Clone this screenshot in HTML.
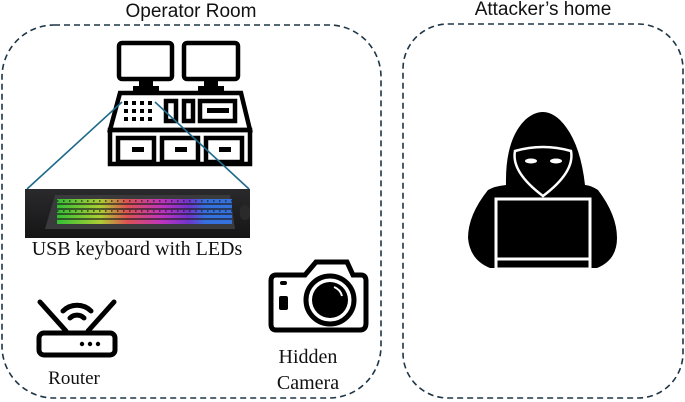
<!DOCTYPE html>
<html><head><style>
html,body{margin:0;padding:0;background:#fff;width:685px;height:402px;overflow:hidden}
</style></head><body>
<svg width="685" height="402" viewBox="0 0 685 402" xmlns="http://www.w3.org/2000/svg">
<defs>
<linearGradient id="kb" x1="0" x2="1">
<stop offset="0" stop-color="#3c3"/><stop offset="0.25" stop-color="#bd3"/><stop offset="0.4" stop-color="#e55"/><stop offset="0.6" stop-color="#c3c"/><stop offset="0.75" stop-color="#73d"/><stop offset="0.85" stop-color="#37e"/><stop offset="1" stop-color="#37e"/>
</linearGradient>
<linearGradient id="bg" x1="0" y1="0" x2="0" y2="1">
<stop offset="0" stop-color="#2a2a2c"/><stop offset="1" stop-color="#151516"/>
</linearGradient>
</defs>
<g font-family="Liberation Sans, sans-serif" font-size="19" fill="#111" text-anchor="middle">
<text x="191" y="17">Operator Room</text>
<text x="543" y="15">Attacker’s home</text>
</g>
<rect x="2" y="25" width="379" height="373" rx="52" fill="none" stroke="#1e3546" stroke-width="1.6" stroke-dasharray="6,4"/>
<rect x="403" y="24" width="280" height="374" rx="45" fill="none" stroke="#1e3546" stroke-width="1.6" stroke-dasharray="6,4"/>
<!-- console -->
<g fill="none" stroke="#000" stroke-width="4.5">
<rect x="119" y="43" width="53" height="36" rx="3"/>
<rect x="184" y="43" width="54" height="36" rx="3"/>
<path d="M120 93 H241 L250 130 H110 Z"/>
<rect x="110" y="130" width="140" height="34"/>
<rect x="118" y="138" width="36" height="24"/>
<rect x="162" y="138" width="36" height="24"/>
<rect x="206" y="138" width="36" height="24"/>
<rect x="166" y="101" width="10" height="20"/>
<rect x="184" y="101" width="9" height="20"/>
<rect x="200" y="101" width="35" height="20"/>
</g>
<g fill="#000">
<rect x="139" y="78" width="14" height="8"/><rect x="204" y="78" width="14" height="8"/>
<rect x="133" y="86" width="26" height="6"/><rect x="198" y="86" width="26" height="6"/>
<rect x="132" y="147" width="12" height="5"/><rect x="175" y="147" width="12" height="5"/><rect x="219" y="147" width="12" height="5"/>
<rect x="207" y="108" width="22" height="5"/>
</g>
<g fill="#000">
<rect x="124" y="101" width="4" height="4"/><rect x="132" y="101" width="4" height="4"/><rect x="140" y="101" width="4" height="4"/><rect x="148" y="101" width="4" height="4"/>
<rect x="124" y="109" width="4" height="4"/><rect x="132" y="109" width="4" height="4"/><rect x="140" y="109" width="4" height="4"/><rect x="148" y="109" width="4" height="4"/>
<rect x="124" y="117" width="4" height="4"/><rect x="132" y="117" width="4" height="4"/><rect x="140" y="117" width="4" height="4"/><rect x="148" y="117" width="4" height="4"/>
</g>
<line x1="27" y1="189" x2="122" y2="102" stroke="#1f6a8a" stroke-width="1.6"/>
<line x1="249" y1="189" x2="155" y2="102" stroke="#1f6a8a" stroke-width="1.6"/>
<!-- keyboard -->
<rect x="25" y="189" width="225" height="49" fill="url(#bg)"/>
<path d="M55 195 H230 L235 229 H45 Z" fill="#3a3a3c"/>
<rect x="57" y="199" width="175" height="25" fill="url(#kb)" opacity="0.9"/>
<g stroke="#1e1e1e" stroke-width="1.2">
<line x1="57" y1="204" x2="232" y2="204"/><line x1="57" y1="209" x2="232" y2="209"/><line x1="57" y1="214" x2="232" y2="214"/><line x1="57" y1="219" x2="232" y2="219"/>
</g>
<g stroke="#1e1e1e" stroke-width="1.2" stroke-dasharray="1.5,4.5"><line x1="57" y1="211" x2="232" y2="211"/><line x1="57" y1="201" x2="232" y2="201"/></g>
<rect x="240" y="205" width="10" height="15" rx="5" fill="#2a2a2a"/>
<text x="137" y="255" font-family="Liberation Serif, serif" font-size="20" text-anchor="middle" fill="#111">USB keyboard with LEDs</text>
<!-- router -->
<g fill="none" stroke="#000" stroke-width="5" stroke-linecap="round">
<rect x="39" y="333" width="76" height="22" rx="5"/>
<line x1="40" y1="302" x2="66" y2="331"/>
<line x1="114" y1="302" x2="88" y2="331"/>
<path d="M63 311 A20 20 0 0 1 91 311"/>
<path d="M70 318 A10 10 0 0 1 84 318"/>
</g>
<g fill="#000"><circle cx="82" cy="344" r="2.2"/><circle cx="90" cy="344" r="2.2"/><circle cx="98" cy="344" r="2.2"/></g>
<text x="74" y="384" font-family="Liberation Serif, serif" font-size="19" text-anchor="middle" fill="#111">Router</text>
<!-- camera -->
<g fill="none" stroke="#000" stroke-width="5">
<path d="M276 275 H305 L316 262 H347 L353 275 H361 Q366 275 366 281 V323 Q366 330 360 330 H276 Q271 330 271 324 V281 Q271 275 276 275 Z"/>
<circle cx="330" cy="300" r="24"/>
</g>
<circle cx="330" cy="300" r="18" fill="#000"/>
<path d="M334 287 A13 13 0 0 1 342 296" stroke="#fff" stroke-width="2" fill="none"/>
<rect x="280" y="281" width="7" height="4" rx="2" fill="#000"/>
<rect x="279" y="296" width="9" height="14" rx="2" fill="#000"/>
<g font-family="Liberation Serif, serif" font-size="20" text-anchor="middle" fill="#111">
<text x="308" y="363">Hidden</text><text x="308" y="389">Camera</text>
</g>
<!-- hacker -->
<path d="M488 190 Q468 215 468 238 Q470 260 490 268 H597 Q617 260 617 238 Q617 215 598 190 Q590 185 585 185 Q580 140 560 120 Q543 104 525 120 Q505 140 506 185 Q495 186 488 190 Z" fill="#000"/>
<path d="M515 151 Q543 143 571 151 Q575 172 543 196 Q511 172 515 151 Z" fill="#000" stroke="#fff" stroke-width="2.5"/>
<ellipse cx="531" cy="161" rx="6" ry="2.5" fill="#fff"/>
<ellipse cx="556" cy="161" rx="6" ry="2.5" fill="#fff"/>
<rect x="496" y="199" width="94" height="70" fill="#000" stroke="#fff" stroke-width="3"/>
<line x1="496" y1="259" x2="590" y2="259" stroke="#fff" stroke-width="3"/>
</svg>
</body></html>
